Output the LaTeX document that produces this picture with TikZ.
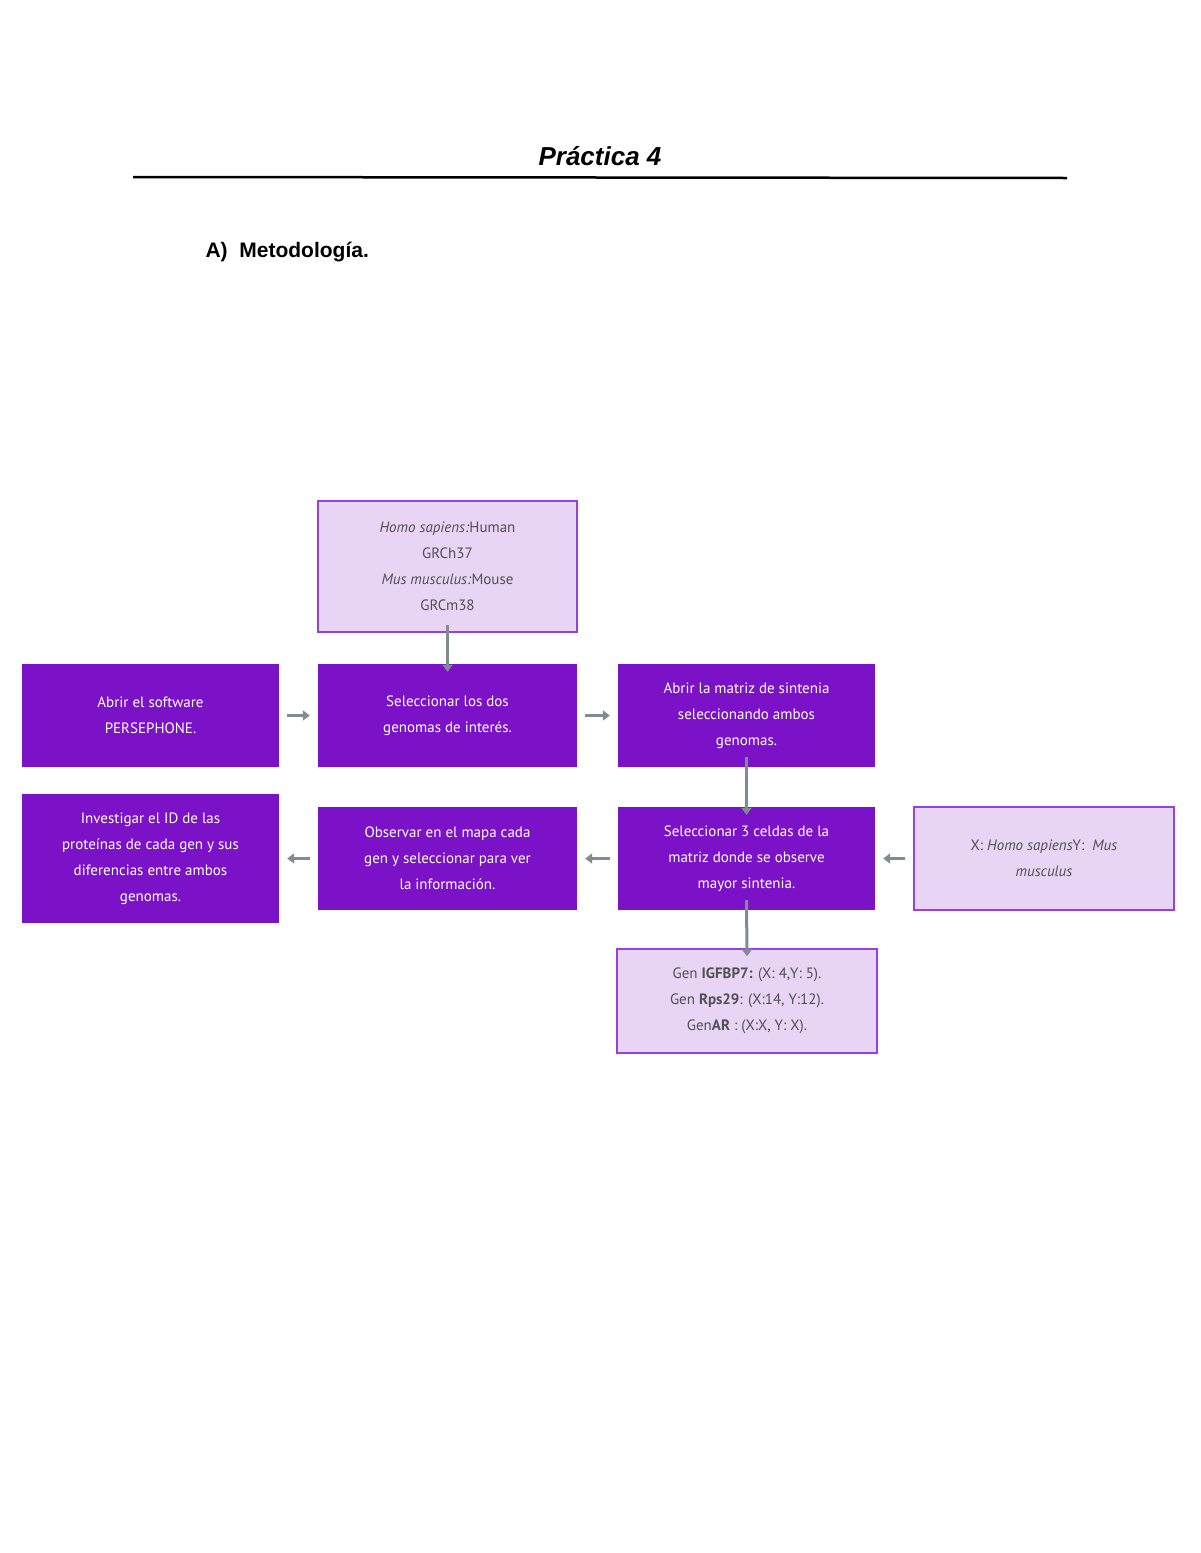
\documentclass[tikz,border=0pt]{standalone}
\usepackage{fontspec}
\setmainfont{PT Sans}
\newfontfamily\hdr{Liberation Sans}
\usetikzlibrary{arrows.meta}
\definecolor{dk}{HTML}{7B12C8}
\definecolor{lt}{HTML}{E8D4F4}
\definecolor{bd}{HTML}{9B3FE0}
\definecolor{ar}{HTML}{7F8C94}
\definecolor{tx}{HTML}{505050}
\begin{document}
\begin{tikzpicture}[x=1pt,y=-1pt,
 box/.style={draw=none,fill=dk,text=white,align=center,font=\fontsize{15}{26}\selectfont,inner sep=0pt},
 lbox/.style={draw=bd,line width=1.5pt,fill=lt,text=tx,align=center,font=\fontsize{15}{26}\selectfont,inner sep=0pt},
 arr/.style={draw=ar,line width=3pt,-{Triangle[length=7pt,width=10pt]}}]
\useasboundingbox (0,0) rectangle (1200,1553);
\fill[white] (0,0) rectangle (1200,1553);
\node[font=\hdr\bfseries\itshape\fontsize{26}{30}\selectfont] (title) at (600,156) {Práctica 4};
\draw[line width=2.5pt] (133,177) coordinate (l1) -- (1067,178) coordinate (l2);
\node[font=\hdr\bfseries\fontsize{21}{24}\selectfont,anchor=west] (sec) at (202,252) {A)\ \ Metodología.};
\newcommand{\bx}[6]{\node[#1,minimum width=#4-#2,minimum height=#5-#3] (#6) at ({(#2+#4)/2},{(#3+#5)/2}) {};}
\bx{lbox}{318}{501}{577}{632}{top}
\bx{box}{22}{664}{279}{767}{A}
\bx{box}{318}{664}{577}{767}{B}
\bx{box}{618}{664}{875}{767}{C}
\bx{box}{22}{794}{279}{923}{D}
\bx{box}{318}{807}{577}{910}{E}
\bx{box}{618}{807}{875}{910}{F}
\bx{lbox}{914}{807}{1174}{910}{G}
\bx{lbox}{617}{949}{877}{1053}{H}
\node[text=tx,align=center,font=\fontsize{15}{26}\selectfont] at (top) {\textit{Homo sapiens:}Human\\GRCh37\\\textit{Mus musculus:}Mouse\\GRCm38};
\node[text=white,align=center,font=\fontsize{15}{26}\selectfont] at (A) {Abrir el software\\PERSEPHONE.};
\node[text=white,align=center,font=\fontsize{15}{26}\selectfont] at (B) {Seleccionar los dos\\genomas de interés.};
\node[text=white,align=center,font=\fontsize{15}{26}\selectfont] at (C) {Abrir la matriz de sintenia\\seleccionando ambos\\genomas.};
\node[text=white,align=center,font=\fontsize{15}{26}\selectfont] at (D) {Investigar el ID de las\\proteínas de cada gen y sus\\diferencias entre ambos\\genomas.};
\node[text=white,align=center,font=\fontsize{15}{26}\selectfont] at (E) {Observar en el mapa cada\\gen y seleccionar para ver\\la información.};
\node[text=white,align=center,font=\fontsize{15}{26}\selectfont] at (F) {Seleccionar 3 celdas de la\\matriz donde se observe\\mayor sintenia.};
\node[text=tx,align=center,font=\fontsize{15}{26}\selectfont] at (G) {X: \textit{Homo sapiens}Y:\ \ \textit{Mus}\\\textit{musculus}};
\node[text=tx,align=center,font=\fontsize{15}{26}\selectfont] at (H) {Gen \textbf{IGFBP7:} (X: 4,Y: 5).\\Gen \textbf{Rps29}: (X:14, Y:12).\\Gen\textbf{AR} : (X:X, Y: X).};
\draw[arr] ([yshift=8]top.south) -- ([yshift=-8]B.north);
\draw[arr] ([xshift=8]A.east) -- ([xshift=-8]B.west);
\draw[arr] ([xshift=8]B.east) -- ([xshift=-8]C.west);
\draw[arr] ([yshift=10]C.south) -- ([yshift=-8]F.north);
\draw[arr] ([xshift=-8]G.west) -- ([xshift=8]F.east);
\draw[arr] ([xshift=-8]F.west) -- ([xshift=8]E.east);
\draw[arr] ([xshift=-8]E.west) -- ([xshift=8]D.east|-E.west);
\draw[arr] ([yshift=10]F.south) -- ([yshift=-8]H.north);
\end{tikzpicture}
\end{document}
